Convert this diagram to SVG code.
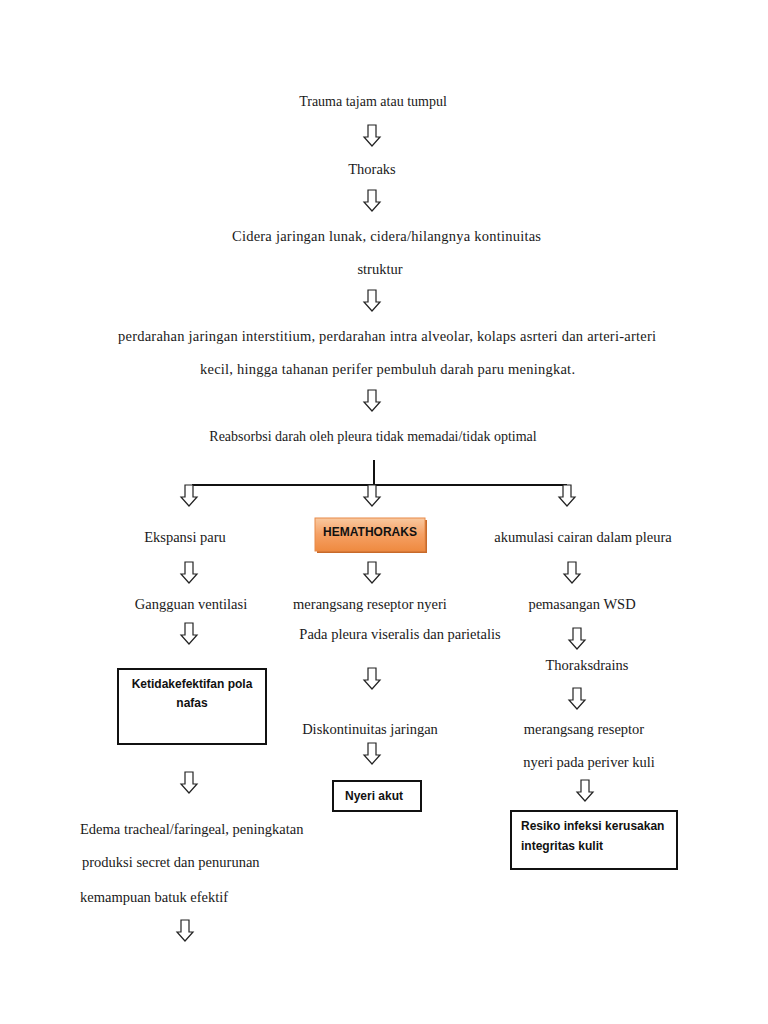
<svg xmlns="http://www.w3.org/2000/svg" width="768" height="1024" viewBox="0 0 768 1024">
<style>
.t{font-family:"Liberation Serif","Times New Roman",serif;font-size:14.5px;fill:#1a1a1a}
.s{font-size:14px}
.b{font-family:"Liberation Sans",Arial,sans-serif;font-size:12px;font-weight:bold;fill:#111}
.box{fill:#fff;stroke:#111;stroke-width:2}
.ln{stroke:#111;stroke-width:2;fill:none}
</style>
<defs>
<path id="ar" d="M-4,0 H4 V12 H8 L0,21 L-8,12 H-4 Z" fill="#fff" stroke="#222" stroke-width="1.2"/>
<linearGradient id="og" x1="0" y1="0" x2="0" y2="1">
<stop offset="0" stop-color="#f9c9a0"/>
<stop offset="0.5" stop-color="#f5a064"/>
<stop offset="1" stop-color="#ef8a40"/>
</linearGradient>
</defs>
<rect width="768" height="1024" fill="#fff"/>
<g id="connectors">
<use href="#ar" x="372" y="125"/>
<use href="#ar" x="372" y="190"/>
<use href="#ar" x="372" y="290"/>
<use href="#ar" x="372" y="390"/>
<path class="ln" d="M374,460 V485 M192,485 H567"/>
<use href="#ar" x="189" y="485"/>
<use href="#ar" x="372" y="485"/>
<use href="#ar" x="567" y="485"/>
<use href="#ar" x="189" y="562"/>
<use href="#ar" x="372" y="562"/>
<use href="#ar" x="572" y="562"/>
<use href="#ar" x="189" y="623"/>
<use href="#ar" x="577" y="628"/>
<use href="#ar" x="372" y="668"/>
<use href="#ar" x="577" y="688"/>
<use href="#ar" x="372" y="743"/>
<use href="#ar" x="189" y="772"/>
<use href="#ar" x="585" y="780"/>
<use href="#ar" x="185" y="920"/>
</g>
<g id="n-trauma"><text class="t s" x="373" y="106" text-anchor="middle">Trauma tajam atau tumpul</text></g>
<g id="n-thoraks"><text class="t" x="372" y="174" text-anchor="middle">Thoraks</text></g>
<g id="n-cidera"><text class="t" x="232" y="241" textLength="309" lengthAdjust="spacing">Cidera jaringan lunak, cidera/hilangnya kontinuitas</text>
<text class="t" x="380" y="274" text-anchor="middle">struktur</text></g>
<g id="n-perdarahan"><text class="t" x="118" y="341" textLength="538" lengthAdjust="spacing">perdarahan jaringan interstitium, perdarahan intra alveolar, kolaps asrteri dan arteri-arteri</text>
<text class="t" x="200" y="374" textLength="375" lengthAdjust="spacing">kecil, hingga tahanan perifer pembuluh darah paru meningkat.</text></g>
<g id="n-reabsorbsi"><text class="t s" x="373" y="441" text-anchor="middle">Reabsorbsi darah oleh pleura tidak memadai/tidak optimal</text></g>
<g id="n-ekspansi"><text class="t" x="185" y="542" text-anchor="middle">Ekspansi paru</text></g>
<g id="n-hemathoraks"><rect x="317" y="520" width="110" height="33" fill="#c86a2a"/><rect x="315" y="518" width="110" height="33" fill="url(#og)" stroke="#e88a48" stroke-width="1"/>
<text class="b" x="370" y="536" text-anchor="middle">HEMATHORAKS</text></g>
<g id="n-akumulasi"><text class="t" x="583" y="542" text-anchor="middle">akumulasi cairan dalam pleura</text></g>
<g id="n-gangguan"><text class="t" x="191" y="609" text-anchor="middle">Gangguan ventilasi</text></g>
<g id="n-merangsang1"><text class="t" x="370" y="609" text-anchor="middle">merangsang reseptor nyeri</text>
<text class="t" x="400" y="639" text-anchor="middle">Pada pleura viseralis dan parietalis</text></g>
<g id="n-wsd"><text class="t" x="582" y="609" text-anchor="middle">pemasangan WSD</text></g>
<g id="n-thoraksdrains"><text class="t" x="587" y="670" text-anchor="middle">Thoraksdrains</text></g>
<g id="n-ketidak"><rect class="box" x="118" y="669" width="148" height="75"/>
<text class="b" x="192" y="688" text-anchor="middle">Ketidakefektifan pola</text>
<text class="b" x="192" y="707" text-anchor="middle">nafas</text></g>
<g id="n-diskontinuitas"><text class="t" x="370" y="734" text-anchor="middle">Diskontinuitas jaringan</text></g>
<g id="n-merangsang2"><text class="t" x="584" y="734" text-anchor="middle">merangsang reseptor</text>
<text class="t" x="589" y="767" text-anchor="middle">nyeri pada periver kuli</text></g>
<g id="n-nyeri"><rect class="box" x="333" y="781" width="88" height="30"/>
<text class="b" x="345" y="800">Nyeri akut</text></g>
<g id="n-resiko"><rect class="box" x="511" y="811" width="166" height="58"/>
<text class="b" x="521" y="830">Resiko infeksi kerusakan</text>
<text class="b" x="521" y="850">integritas kulit</text></g>
<g id="n-edema"><text class="t" x="80" y="834">Edema tracheal/faringeal, peningkatan</text>
<text class="t" x="82" y="867"> produksi secret dan penurunan</text>
<text class="t" x="80" y="902">kemampuan batuk efektif</text></g>
</svg>
